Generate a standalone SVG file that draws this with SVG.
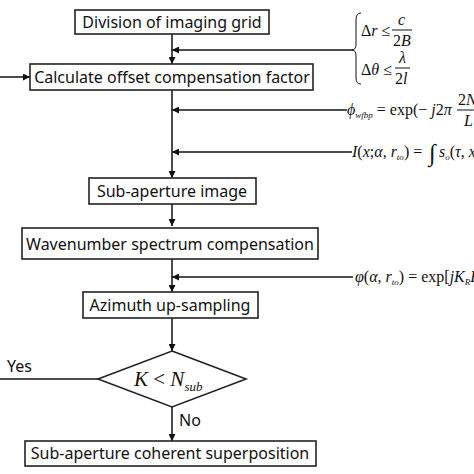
<svg xmlns="http://www.w3.org/2000/svg" width="474" height="474" viewBox="0 0 474 474">
<style>
.box{fill:#fff;stroke:#222;stroke-width:1.6}
.t{font-family:"Noto Sans","Liberation Sans",sans-serif;font-size:16px;fill:#111;text-anchor:middle}
.lb{font-family:"Noto Sans","Liberation Sans",sans-serif;font-size:16px;fill:#111}
.m{font-family:"Liberation Serif",serif;font-size:16px;fill:#111}
.i{font-style:italic}
.ln{stroke:#111;stroke-width:1.5;fill:none}
.th{stroke:#111;stroke-width:1;fill:none}
</style>
<defs>
<marker id="ah" viewBox="0 0 10 10" refX="10" refY="5" markerWidth="7" markerHeight="7" markerUnits="userSpaceOnUse" orient="auto">
<path d="M0,0 L10,5 L0,10 z" fill="#111"/>
</marker>
</defs>
<g id="connectors">
<line class="ln" x1="172" y1="34" x2="172" y2="64" marker-end="url(#ah)"/>
<line class="ln" x1="353" y1="50" x2="172" y2="50" marker-end="url(#ah)"/>
<line class="ln" x1="0" y1="77" x2="30" y2="77" marker-end="url(#ah)"/>
<line class="ln" x1="172" y1="90" x2="172" y2="178" marker-end="url(#ah)"/>
<line class="ln" x1="347" y1="110" x2="172" y2="110" marker-end="url(#ah)"/>
<line class="ln" x1="352" y1="152" x2="172" y2="152" marker-end="url(#ah)"/>
<line class="ln" x1="172" y1="204" x2="172" y2="226" marker-end="url(#ah)"/>
<line class="ln" x1="172" y1="259" x2="172" y2="292" marker-end="url(#ah)"/>
<line class="ln" x1="353" y1="277" x2="172" y2="277" marker-end="url(#ah)"/>
<line class="ln" x1="172" y1="318" x2="172" y2="351" marker-end="url(#ah)"/>
<line class="ln" x1="0" y1="379" x2="98" y2="379"/>
<line class="ln" x1="172" y1="407" x2="172" y2="441" marker-end="url(#ah)"/>
<text class="lb" x="7" y="372">Yes</text>
<text class="lb" x="179" y="426">No</text>
</g>
<g id="n1"><rect class="box" x="75" y="10" width="194" height="24"/><text class="t" x="172" y="28">Division of imaging grid</text></g>
<g id="n2"><rect class="box" x="30" y="64" width="283" height="26"/><text class="t" x="172" y="83">Calculate offset compensation factor</text></g>
<g id="n3"><rect class="box" x="89" y="178" width="167" height="26"/><text class="t" x="172" y="197">Sub-aperture image</text></g>
<g id="n4"><rect class="box" x="22" y="228" width="296" height="31"/><text class="t" x="170" y="250">Wavenumber spectrum compensation</text></g>
<g id="n5"><rect class="box" x="83" y="292" width="175" height="26"/><text class="t" x="170" y="311">Azimuth up-sampling</text></g>
<g id="n6"><path class="box" d="M172,351 L246,379 L172,407 L98,379 Z"/><text class="m" x="134" y="386" style="font-size:21px"><tspan class="i">K</tspan> &lt; <tspan class="i">N</tspan><tspan class="i" style="font-size:13px" dy="5">sub</tspan></text></g>
<g id="n7"><rect class="box" x="25" y="441" width="291" height="25"/><text class="t" x="170" y="459">Sub-aperture coherent superposition</text></g>
<g id="f1">
<path class="th" d="M361,13 Q356,13 356,20 L356,44 Q356,50 352,50 Q356,50 356,56 L356,78 Q356,84 361,84"/>
<text class="m" x="361" y="36">Δ<tspan class="i">r</tspan> ≤</text>
<text class="m i" x="398" y="25">c</text>
<line class="th" x1="392" y1="30" x2="412" y2="30"/>
<text class="m" x="393" y="46">2<tspan class="i">B</tspan></text>
<text class="m" x="361" y="75">Δ<tspan class="i">θ</tspan> ≤</text>
<text class="m i" x="399" y="63">λ</text>
<line class="th" x1="395" y1="68" x2="410" y2="68"/>
<text class="m" x="395" y="84">2<tspan class="i">l</tspan></text>
</g>
<g id="f2">
<text class="m" x="347" y="115"><tspan class="i">ϕ</tspan><tspan class="i" style="font-size:9px" dy="3">wfbp</tspan><tspan dy="-3"> = exp(− </tspan><tspan class="i">j</tspan>2<tspan class="i">π</tspan></text>
<text class="m" x="458" y="105">2<tspan class="i">N</tspan></text>
<line class="th" x1="457" y1="110" x2="474" y2="110"/>
<text class="m i" x="464" y="126">L</text>
</g>
<g id="f3">
<text class="m" x="352" y="157"><tspan class="i">I</tspan>(<tspan class="i">x</tspan>;<tspan class="i">α</tspan>, <tspan class="i">r</tspan><tspan class="i" style="font-size:9px" dy="3">to</tspan><tspan dy="-3">) = </tspan></text>
<text class="m i" x="429" y="161" style="font-size:24px">∫</text>
<text class="m" x="439" y="157"><tspan class="i">s</tspan><tspan class="i" style="font-size:9px" dy="3">o</tspan><tspan dy="-3">(</tspan><tspan class="i">τ</tspan>, <tspan class="i">x</tspan></text>
</g>
<g id="f4">
<text class="m" x="355" y="282"><tspan class="i">φ</tspan>(<tspan class="i">α</tspan>, <tspan class="i">r</tspan><tspan class="i" style="font-size:9px" dy="3">to</tspan><tspan dy="-3">) = exp[</tspan><tspan class="i">jK</tspan><tspan class="i" style="font-size:9px" dy="3">R</tspan><tspan class="i" dy="-3">F</tspan></text>
</g>
</svg>
